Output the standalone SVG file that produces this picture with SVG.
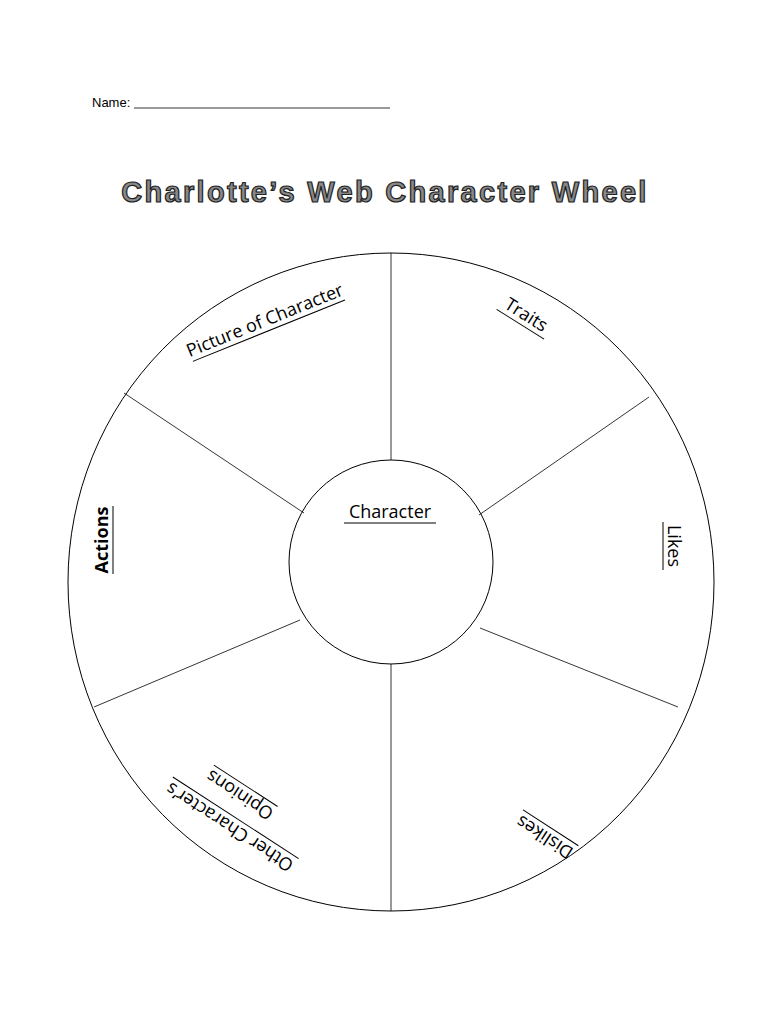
<svg xmlns="http://www.w3.org/2000/svg" width="768" height="1024" viewBox="0 0 768 1024">
<style>
.l{stroke:#000;stroke-width:1;fill:none}
.t{font-family:"Open Sans",sans-serif;font-size:18px;fill:#000;text-anchor:middle}
</style>
<rect width="768" height="1024" fill="#fff"/>
<text x="92" y="107" font-family="Liberation Sans,sans-serif" font-size="13">Name:</text>
<line x1="134" y1="108" x2="390" y2="108" stroke="#000" stroke-width="0.8"/>
<text x="385" y="202" text-anchor="middle" font-family="Liberation Sans,sans-serif" font-weight="bold" font-size="29" fill="#888" stroke="#222" stroke-width="1.2" letter-spacing="2.3">Charlotte’s Web Character Wheel</text>
<g id="wheel">
<ellipse class="l" cx="391" cy="582" rx="323" ry="329"/>
<circle class="l" cx="391" cy="562" r="102"/>
</g>
<g id="connectors" stroke="#000" stroke-width="0.8">
<line x1="391" y1="460" x2="391" y2="253"/>
<line x1="479" y1="515" x2="649" y2="397"/>
<line x1="480" y1="628" x2="678" y2="707"/>
<line x1="391" y1="664" x2="391" y2="911"/>
<line x1="300" y1="620" x2="94" y2="707"/>
<line x1="304" y1="513" x2="124" y2="393"/>
</g>
<g id="labels">
<g transform="translate(390,518)"><text class="t">Character</text><line class="l" x1="-46" y1="5" x2="46" y2="5"/></g>
<g transform="translate(267,326) rotate(-22)"><text class="t" font-size="15">Picture of Character</text><line class="l" x1="-82" y1="5" x2="82" y2="5"/></g>
<g transform="translate(523,320) rotate(32)"><text class="t">Traits</text><line class="l" x1="-28" y1="5" x2="28" y2="5"/></g>
<g transform="translate(668,546) rotate(90)"><text class="t">Likes</text><line class="l" x1="-24" y1="5" x2="24" y2="5"/></g>
<g transform="translate(548,832) rotate(213)"><text class="t">Dislikes</text><line class="l" x1="-33" y1="5" x2="33" y2="5"/></g>
<g transform="translate(108,540) rotate(-90)"><text class="t" font-weight="bold">Actions</text><line class="l" x1="-34" y1="5" x2="34" y2="5"/></g>
<g transform="translate(233,822) rotate(213)"><text class="t">Other Character’s</text><line class="l" x1="-75" y1="5" x2="75" y2="5"/></g>
<g transform="translate(243,790) rotate(213)"><text class="t">Opinions</text><line class="l" x1="-38" y1="5" x2="38" y2="5"/></g>
</g>
</svg>
